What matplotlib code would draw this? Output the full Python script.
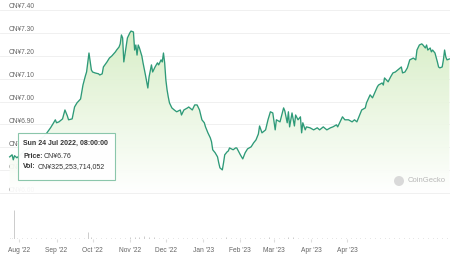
import numpy as np
import matplotlib
matplotlib.use('Agg')
import matplotlib.pyplot as plt
import matplotlib.dates as mdates
from matplotlib.patches import Rectangle, Ellipse, Polygon
from matplotlib.transforms import offset_copy, Bbox, TransformedBbox

plt.rcParams['font.family'] = ['Liberation Sans', 'DejaVu Sans']

# price, days counted from 24 Jul 2022
days = [0, 2, 3, 4, 6, 9, 12, 15, 19, 22, 25, 29, 31, 34, 36, 38, 39, 41, 44, 46,
        48, 49, 52, 54, 56, 59, 60, 61, 63, 64, 66, 68, 69, 71, 74, 75, 77, 78, 81, 83,
        85, 88, 89, 91, 92, 93, 94, 95, 97, 98, 100, 101, 103, 104, 105, 106, 107, 108, 110, 111,
        113, 115, 116, 118, 119, 121, 123, 124, 126, 127, 128, 129, 130, 131, 132, 133, 135, 137, 139, 142,
        143, 145, 148, 149, 152, 154, 156, 158, 160, 162, 163, 165, 167, 168, 169, 171, 173, 174, 175, 177,
        178, 179, 181, 182, 183, 186, 188, 189, 192, 194, 196, 198, 201, 203, 205, 207, 208, 210, 213, 215,
        217, 219, 221, 222, 225, 228, 229, 231, 232, 233, 235, 237, 238, 240, 242, 243, 244, 246, 247, 250,
        253, 256, 258, 261, 264, 267, 269, 272, 273, 277, 279, 282, 285, 287, 289, 292, 293, 296, 297, 300,
        302, 306, 307, 310, 311, 312, 315, 317, 319, 321, 323, 326, 327, 329, 331, 333, 336, 338, 339, 341,
        343, 344, 346, 347, 348, 350, 351, 352, 354, 356, 357, 358, 360, 361, 362, 363, 364, 366]
price = [6.758, 6.767, 6.745, 6.763, 6.754, 6.767, 6.784, 6.793, 6.806, 6.819, 6.832, 6.850, 6.863, 6.885, 6.902, 6.920, 6.907, 6.911, 6.924, 6.963,
         6.937, 6.920, 6.924, 6.976, 6.994, 7.011, 7.042, 7.072, 7.112, 7.129, 7.212, 7.138, 7.129, 7.125, 7.121, 7.116, 7.121, 7.151, 7.173, 7.190,
         7.199, 7.217, 7.225, 7.238, 7.252, 7.291, 7.278, 7.173, 7.243, 7.278, 7.300, 7.308, 7.304, 7.225, 7.247, 7.203, 7.247, 7.234, 7.199, 7.169,
         7.116, 7.059, 7.107, 7.160, 7.129, 7.151, 7.169, 7.160, 7.182, 7.173, 7.212, 7.169, 7.094, 7.051, 7.020, 6.994, 6.972, 6.963, 6.955, 6.963,
         6.941, 6.963, 6.972, 6.976, 6.963, 6.985, 6.985, 6.963, 6.920, 6.907, 6.889, 6.863, 6.841, 6.824, 6.789, 6.776, 6.758, 6.732, 6.710, 6.701,
         6.732, 6.767, 6.780, 6.784, 6.797, 6.789, 6.797, 6.797, 6.767, 6.749, 6.776, 6.793, 6.802, 6.819, 6.832, 6.858, 6.893, 6.863, 6.876, 6.920,
         6.955, 6.950, 6.876, 6.920, 6.911, 6.972, 6.959, 6.907, 6.955, 6.889, 6.950, 6.893, 6.941, 6.920, 6.933, 6.863, 6.907, 6.876, 6.889, 6.885,
         6.876, 6.885, 6.876, 6.889, 6.876, 6.885, 6.889, 6.898, 6.889, 6.933, 6.920, 6.920, 6.911, 6.920, 6.911, 6.950, 6.963, 6.972, 6.994, 7.029,
         7.016, 7.064, 7.072, 7.081, 7.072, 7.103, 7.086, 7.107, 7.125, 7.129, 7.138, 7.151, 7.125, 7.129, 7.147, 7.182, 7.190, 7.182, 7.225, 7.247,
         7.252, 7.247, 7.234, 7.247, 7.225, 7.234, 7.217, 7.225, 7.212, 7.173, 7.151, 7.147, 7.151, 7.182, 7.225, 7.195, 7.182, 7.186]

# volume (CN¥ billions), days counted from 24 Jul 2022
vol_days = [0, 2, 4, 6, 10, 14, 18, 22, 26, 30, 34, 38, 42, 46, 50, 54, 58, 62, 65, 68,
            72, 76, 80, 84, 88, 92, 96, 100, 104, 108, 112, 116, 120, 124, 128, 132, 136, 140, 144, 148,
            152, 156, 160, 164, 168, 172, 176, 180, 184, 188, 192, 196, 200, 204, 208, 212, 216, 220, 224, 228,
            232, 236, 240, 244, 248, 252, 256, 260, 264, 268, 272, 276, 280, 284, 288, 292, 296, 300, 304, 308,
            312, 316, 320, 324, 328, 332, 336, 340, 344, 348, 352, 356, 360, 364]
volume = [14, 12, 325, 15, 10, 9, 11, 8, 10, 9, 12, 10, 11, 9, 10, 12, 14, 16, 80, 18,
          12, 10, 9, 11, 10, 14, 16, 20, 24, 28, 30, 22, 18, 12, 10, 9, 11, 10, 8, 9,
          10, 9, 8, 10, 12, 14, 16, 18, 15, 14, 16, 15, 13, 14, 12, 15, 18, 16, 14, 13,
          25, 18, 14, 12, 10, 9, 11, 10, 9, 8, 10, 9, 10, 11, 9, 10, 12, 11, 9, 10,
          11, 9, 10, 12, 10, 11, 9, 10, 12, 11, 10, 9, 10, 11]

month_ticks = ['2022-08-01', '2022-09-01', '2022-10-01', '2022-11-01', '2022-12-01',
               '2023-01-01', '2023-02-01', '2023-03-01', '2023-04-01', '2023-05-01']
month_labels = ["Aug '22", "Sep '22", "Oct '22", "Nov '22", "Dec '22",
                "Jan '23", "Feb '23", "Mar '23", "Apr '23", "Apr '23"]
price_ticks = [6.6, 6.7, 6.8, 6.9, 7.0, 7.1, 7.2, 7.3, 7.4]

W, H = 450, 259
start = np.datetime64('2022-07-24')
dates = start + np.array(days).astype('timedelta64[D]')
vdates = start + np.array(vol_days).astype('timedelta64[D]')
x0 = mdates.date2num(start) - 8.06
x1 = mdates.date2num(start) + 366.5

line_col = '#2e9a78'
grey = '#666666'

fig = plt.figure(figsize=(W / 100, H / 100), dpi=100)
fig.patch.set_facecolor('white')


def fx(x):
    return x / W


def fy(y):
    return 1 - y / H


ax = fig.add_axes([0, (H - 193) / H, 1, 183 / H])
ax.set_xlim(x0, x1)
ax.set_ylim(6.6, 7.4)
ax.axis('off')

# labels under the tooltip only show their left part
left_clip = TransformedBbox(Bbox([[0, 0], [fx(18), 1]]), fig.transFigure)
for t in price_ticks:
    ax.axhline(t, color='#eeeeee', lw=0.6, zorder=0, clip_on=False)
    tr = offset_copy(ax.get_yaxis_transform(), fig=fig, x=0, y=3, units='dots')
    lbl = ax.text(9 / W, t, 'CN¥%.2f' % t, transform=tr, ha='left', va='center',
                  fontsize=4.8, color=grey, zorder=1)
    if t in (6.7, 6.8):
        lbl.set_clip_on(True)
        lbl.set_clip_box(left_clip)

xd = mdates.date2num(dates)
ax.plot(xd, price, color=line_col, lw=0.95, zorder=3, solid_joinstyle='round')

# gradient fill under the line
grad = np.linspace(0, 1, 256).reshape(-1, 1)
cmap = matplotlib.colors.LinearSegmentedColormap.from_list('g', ['#ffffff', '#d6eec4'])
im = ax.imshow(grad, aspect='auto', cmap=cmap, origin='lower',
               extent=[x0, x1, 6.6, 7.32], zorder=2, alpha=0.95)
poly = Polygon(np.column_stack([np.r_[xd[0], xd, xd[-1]], np.r_[6.6, price, 6.6]]),
               closed=True, transform=ax.transData, facecolor='none', edgecolor='none')
ax.add_patch(poly)
im.set_clip_path(poly)

# volume panel
vax = fig.add_axes([0, (H - 239) / H, 1, 33 / H])
vax.set_xlim(x0, x1)
vax.set_ylim(0, 370)
vnum = mdates.date2num(vdates)
vax.vlines(vnum, 0, volume, color='#c4c4c4', lw=0.6)
vax.axhline(0, color='#d8d8d8', lw=0.7)
for s in vax.spines.values():
    s.set_visible(False)
vax.set_yticks([])
vax.set_xticks(mdates.date2num(np.array(month_ticks, dtype='datetime64[D]')))
vax.set_xticklabels(month_labels)
vax.tick_params(axis='x', length=2.5, color='#dddddd', pad=3.5, labelsize=4.8, labelcolor=grey)

# tooltip
fig.add_artist(Rectangle((fx(18), fy(180)), 97 / W, 47 / H, transform=fig.transFigure,
                         facecolor='white', alpha=0.96, edgecolor='#86c4a8', lw=0.8, zorder=10))
fig.text(fx(23), fy(143), 'Sun 24 Jul 2022, 08:00:00', fontsize=5.0, fontweight='bold',
         color='#333333', va='center', zorder=11)
fig.text(fx(23), fy(157), 'Price:', fontsize=5.0, fontweight='bold', color='#333333', va='center', zorder=11)
fig.text(fx(44), fy(157), 'CN¥6.76', fontsize=5.0, color='#333333', va='center', zorder=11)
fig.text(fx(23), fy(167), 'Vol:', fontsize=5.0, fontweight='bold', color='#333333', va='center', zorder=11)
fig.text(fx(38), fy(167), 'CN¥325,253,714,052', fontsize=5.0, color='#333333', va='center', zorder=11)

# watermark
fig.add_artist(Ellipse((fx(399), fy(181)), 10 / W, 10 / H, transform=fig.transFigure,
                       facecolor='#d9d9d9', edgecolor='none', zorder=5))
fig.text(fx(408), fy(181), 'CoinGecko', fontsize=5.5, color='#b8b8b8', va='center', zorder=5)

fig.savefig('out.png', dpi=100)
